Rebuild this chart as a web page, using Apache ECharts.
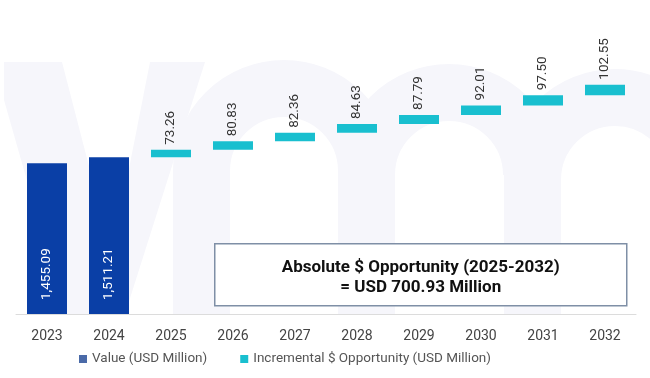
<!DOCTYPE html>
<html><head><meta charset="utf-8">
<script src="https://cdn.jsdelivr.net/npm/echarts@6/dist/echarts.min.js"></script>
<style>html,body{margin:0;padding:0;background:#fff}#c{width:650px;height:378px}</style>
</head><body><div id="c"></div>
<script>
const categories = ['2023','2024','2025','2026','2027','2028','2029','2030','2031','2032'];
const valueData = [1455.09, 1511.21];
const incrementData = [73.26, 80.83, 82.36, 84.63, 87.79, 92.01, 97.50, 102.55];
const boxLines = ['Absolute $ Opportunity (2025-2032)', '= USD 700.93 Million'];
const legendNames = ['Value (USD Million)', 'Incremental $ Opportunity (USD Million)'];

const nVal = valueData.length;
const valueSeries = categories.map((c,i)=> i<nVal ? valueData[i] : '-');
const incSeries = categories.map((c,i)=> i<nVal ? '-' : incrementData[i-nVal]);
const baseSeries = [];
let run = valueData[nVal-1];
categories.forEach((c,i)=>{
  if(i<nVal){ baseSeries.push('-'); }
  else { baseSeries.push(run); run += incrementData[i-nVal]; }
});
const fmt = v => v.toLocaleString('en-US',{minimumFractionDigits:2,maximumFractionDigits:2});
const FONT = 'Roboto';
const WM = '#f6f6fb';
const SW = 57;

const wm = [
  {type:'polygon',z:-10,silent:true,shape:{points:[[4,62],[62,62],[112,255],[150,62],[205,62],[125,314],[65,314],[4,100]]},style:{fill:WM}},
  {type:'rect',z:-10,silent:true,shape:{x:173,y:171,width:SW,height:143},style:{fill:WM}},
  {type:'rect',z:-10,silent:true,shape:{x:338,y:171,width:SW,height:143},style:{fill:WM}},
  {type:'rect',z:-10,silent:true,shape:{x:504,y:175,width:SW,height:139},style:{fill:WM}},
  {type:'arc',z:-10,silent:true,shape:{cx:284,cy:171,r:82.5,startAngle:Math.PI,endAngle:2*Math.PI,clockwise:true},style:{fill:null,stroke:WM,lineWidth:SW}},
  {type:'arc',z:-10,silent:true,shape:{cx:449,cy:175,r:82.5,startAngle:Math.PI,endAngle:2*Math.PI,clockwise:true},style:{fill:null,stroke:WM,lineWidth:SW}},
  {type:'arc',z:-10,silent:true,shape:{cx:615,cy:180,r:82.5,startAngle:Math.PI,endAngle:1.75*Math.PI,clockwise:true},style:{fill:null,stroke:WM,lineWidth:SW}}
];

const chart = echarts.init(document.getElementById('c'));
chart.setOption({
  animation:false,
  textStyle:{fontFamily:FONT},
  grid:{left:16,right:14,top:3,bottom:64},
  legend:{
    data:[{name:legendNames[0],itemStyle:{color:'#4a6aa8'}},{name:legendNames[1],itemStyle:{color:'#19bfcf'}}],
    bottom:7, left:74, itemWidth:8, itemHeight:8, itemGap:33,
    icon:'rect', textStyle:{fontSize:13.5,color:'#555',fontFamily:FONT}
  },
  xAxis:{
    type:'category', data:categories,
    axisLine:{lineStyle:{color:'#dcdcdc'}}, axisTick:{show:false},
    axisLabel:{fontSize:14,color:'#444',margin:15,fontFamily:FONT}
  },
  yAxis:{type:'value',min:0,max:3000,show:false,splitLine:{show:false}},
  graphic: wm.concat([
    {type:'group', left:214, top:243,
    children:[
      {type:'rect',shape:{x:0,y:0,width:412,height:62},style:{fill:'#fff',stroke:'#7f8fa6',lineWidth:1.5}},
      {type:'text',x:206,y:24,style:{text:boxLines[0],align:'center',verticalAlign:'middle',font:'bold 17px '+FONT,fill:'#111'}},
      {type:'text',x:206,y:44,style:{text:boxLines[1],align:'center',verticalAlign:'middle',font:'bold 17px '+FONT,fill:'#111'}}
    ]
  }]),
  series:[
    {name:'base',type:'bar',stack:'t',data:baseSeries,barWidth:40,itemStyle:{color:'transparent'},silent:true},
    {name:legendNames[0],type:'bar',stack:'t',data:valueSeries,barWidth:40,
      itemStyle:{color:'#0a3fa6'},
      label:{show:true,position:'insideBottom',rotate:90,align:'left',verticalAlign:'middle',distance:14,
        color:'#fff',fontSize:13.5,fontFamily:FONT,formatter:p=>fmt(p.value)}},
    {name:legendNames[1],type:'bar',stack:'t',data:incSeries,barWidth:40,
      itemStyle:{color:'#19bfcf'},
      label:{show:true,position:'top',rotate:90,align:'left',verticalAlign:'middle',distance:5,
        color:'#333',fontSize:13.5,fontFamily:FONT,formatter:p=>fmt(p.value)}}
  ]
});
</script></body></html>
